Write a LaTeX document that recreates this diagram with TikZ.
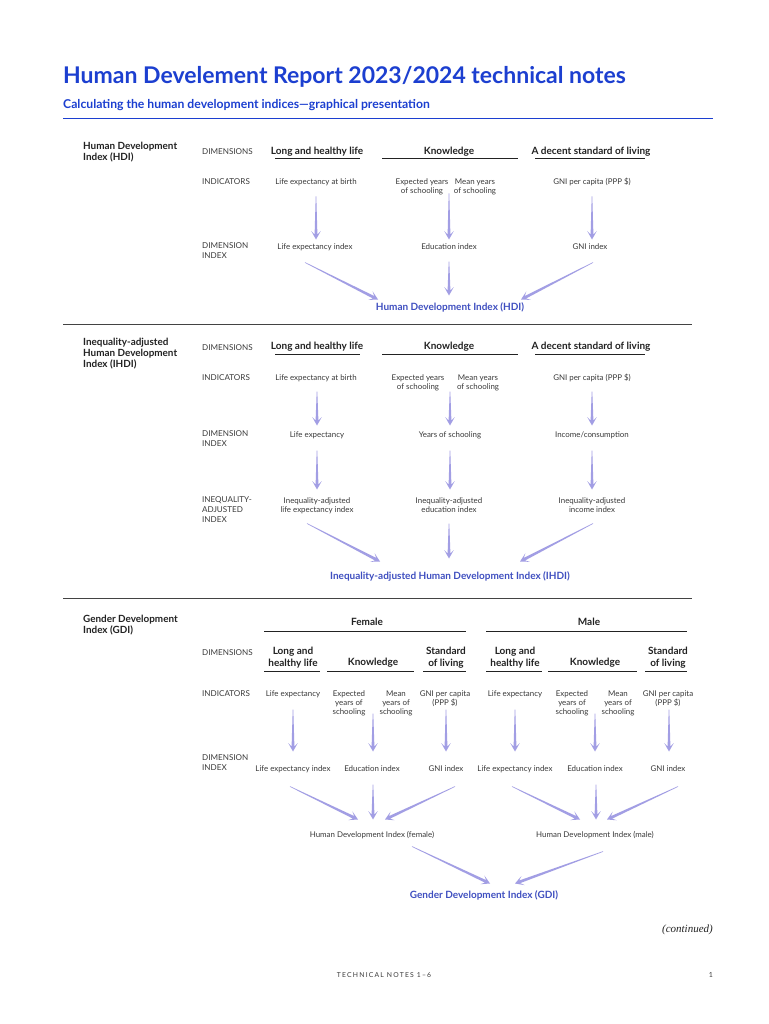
\documentclass[tikz,border=0pt]{standalone}
\usepackage{fontspec}
\setmainfont{Lato}
\newfontfamily\serifit{Liberation Serif}
\usetikzlibrary{calc}
\definecolor{titleblue}{HTML}{1C3FD0}
\definecolor{resblue}{HTML}{3F4FC0}
\definecolor{arrowc}{HTML}{A29EE4}
\definecolor{txt}{HTML}{3A3A3A}
\definecolor{dark}{HTML}{222222}
\newcommand\pairbox[3]{\makebox[#1pt]{#2}\makebox[#1pt]{#3}}
\begin{document}
\begin{tikzpicture}[x=1pt,y=-1pt,
 struts/.style={execute at begin node=\strut, execute at end node=\strut},
 small/.style={font=\fontsize{7.9}{9}\selectfont, text=txt, align=center, inner sep=0pt, struts, yshift=-1.5pt},
 cat/.style={font=\fontsize{8.1}{10}\selectfont, text=txt, align=left, anchor=west, inner sep=0pt, struts, yshift=-1.5pt},
 dimh/.style={font=\bfseries\fontsize{10}{12}\selectfont, text=dark, align=center, inner sep=0pt, struts, yshift=-1.5pt},
 sec/.style={font=\bfseries\fontsize{9.9}{11}\selectfont, text=dark, align=left, anchor=north west, inner sep=0pt, struts},
 res/.style={font=\bfseries\fontsize{10}{11}\selectfont, text=resblue, inner sep=0pt, struts, yshift=-1.5pt},
 uline/.style={draw=dark, line width=0.8pt},
 sepline/.style={draw=dark!85, line width=0.9pt},
 arr/.style={fill=arrowc, draw=none},
 taper/.style={to path={let \p1=(\tikztostart),\p2=(\tikztotarget),\n1={atan2(\y2-\y1,\x2-\x1)} in
   ($(\p1)+({\n1+90}:0.3pt)$) -- ($(\p2)+({\n1+180}:5pt)+({\n1+90}:1.4pt)$) -- ($(\p2)+({\n1+180}:8.5pt)+({\n1+90}:4.8pt)$) -- (\p2) -- ($(\p2)+({\n1+180}:8.5pt)+({\n1-90}:4.8pt)$) -- ($(\p2)+({\n1+180}:5pt)+({\n1-90}:1.4pt)$) -- ($(\p1)+({\n1-90}:0.3pt)$) -- cycle}}
]
\useasboundingbox (0,0) rectangle (768,1024);
\fill[white] (0,0) rectangle (768,1024);

% header
\node[anchor=base west, inner sep=0pt, text=titleblue, font=\bfseries\fontsize{23}{26}\selectfont] (title) at (63,84) {Human Develement Report 2023/2024 technical notes};
\node[anchor=base west, inner sep=0pt, text=titleblue, font=\bfseries\fontsize{12.2}{14}\selectfont] (subtitle) at (63,109) {Calculating the human development indices---graphical presentation};
\draw[draw=titleblue, line width=1pt] (63,119) -- (713,119);

% ===== HDI =====
\node[sec] (s1) at (83,142) {Human Development\\Index (HDI)};
\node[cat] (c1a) at (202,151) {DIMENSIONS};
\node[dimh] (d1a) at (317,151) {Long and healthy life};
\node[dimh] (d1b) at (449,151) {Knowledge};
\node[dimh] (d1c) at (591,151) {A decent standard of living};
\draw[uline] (275,158) -- (360,158);
\draw[uline] (382,158) -- (518,158);
\draw[uline] (535,158) -- (645,158);
\node[cat] (c1b) at (202,181) {INDICATORS};
\node[small] (i1a) at (316,181) {Life expectancy at birth};
\node[small] (i1b) at (448.5,185.5) {\pairbox{53}{Expected years}{Mean years}\\\pairbox{53}{of schooling}{of schooling}};
\node[small] (i1d) at (592,181) {GNI per capita (PPP \$)};
\node[cat] (c1c) at (202,251) {DIMENSION\\INDEX};
\node[small] (x1a) at (315,246) {Life expectancy index};
\node[small] (x1b) at (449,246) {Education index};
\node[small] (x1c) at (590,246) {GNI index};
\node[res] (r1) at (450,307) {Human Development Index (HDI)};
\fill[arr] ($(i1a)+(0,14)$) to[taper] ($(x1a)+(1,-8)$);
\fill[arr] ($(i1b)+(0.5,6.5)$) to[taper] ($(x1b)+(0,-8)$);
\fill[arr] ($(i1d)+(0,14)$) to[taper] ($(x1c)+(2,-8)$);
\fill[arr] ($(x1a)+(-10,15)$) to[taper] ($(r1)+(-72,-9)$);
\fill[arr] ($(x1b)+(0,14)$) to[taper] ($(r1)+(-1,-13)$);
\fill[arr] ($(x1c)+(3,15)$) to[taper] ($(r1)+(71,-9)$);
\draw[sepline] (63,324) -- (692,324);

% ===== IHDI =====
\node[sec] (s2) at (83,338) {Inequality-adjusted\\Human Development\\Index (IHDI)};
\node[cat] (c2a) at (202,347) {DIMENSIONS};
\node[dimh] (d2a) at (317,346) {Long and healthy life};
\node[dimh] (d2b) at (449,346) {Knowledge};
\node[dimh] (d2c) at (591,346) {A decent standard of living};
\draw[uline] (275,354) -- (360,354);
\draw[uline] (382,354) -- (518,354);
\draw[uline] (535,354) -- (645,354);
\node[cat] (c2b) at (202,377) {INDICATORS};
\node[small] (i2a) at (316,377) {Life expectancy at birth};
\node[small] (i2b) at (448,381.5) {\pairbox{60}{Expected years}{Mean years}\\\pairbox{60}{of schooling}{of schooling}};
\node[small] (i2d) at (592,377) {GNI per capita (PPP \$)};
\node[cat] (c2c) at (202,439) {DIMENSION\\INDEX};
\node[small] (x2a) at (317,434) {Life expectancy};
\node[small] (x2b) at (450,434) {Years of schooling};
\node[small] (x2c) at (592,434) {Income/consumption};
\node[cat] (c2d) at (202,509.5) {INEQUALITY-\\ADJUSTED\\INDEX};
\node[small] (q2a) at (317,505) {Inequality-adjusted\\life expectancy index};
\node[small] (q2b) at (449,505) {Inequality-adjusted\\education index};
\node[small] (q2c) at (592,505) {Inequality-adjusted\\income index};
\node[res] (r2) at (450,576) {Inequality-adjusted Human Development Index (IHDI)};
\fill[arr] ($(i2a)+(1,13)$) to[taper] ($(x2a)+(0,-10)$);
\fill[arr] ($(i2b)+(2,8.5)$) to[taper] ($(x2b)+(0,-10)$);
\fill[arr] ($(i2d)+(0,13)$) to[taper] ($(x2c)+(0,-10)$);
\fill[arr] ($(x2a)+(0,15)$) to[taper] ($(q2a)+(0,-17)$);
\fill[arr] ($(x2b)+(0,15)$) to[taper] ($(q2b)+(1,-17)$);
\fill[arr] ($(x2c)+(0,15)$) to[taper] ($(q2c)+(0,-17)$);
\fill[arr] ($(q2a)+(-10,17)$) to[taper] ($(r2)+(-70,-16)$);
\fill[arr] ($(q2b)+(0,17)$) to[taper] ($(r2)+(-1,-19)$);
\fill[arr] ($(q2c)+(1,17)$) to[taper] ($(r2)+(70,-16)$);
\draw[sepline] (63,598) -- (692,598);

% ===== GDI =====
\node[sec] (s3) at (83,615) {Gender Development\\Index (GDI)};
\node[dimh] (fem) at (367,622) {Female};
\node[dimh] (mal) at (589,622) {Male};
\draw[uline] (264,631) -- (466,631);
\draw[uline] (486,631) -- (687,631);
\node[cat] (c3a) at (202,652) {DIMENSIONS};
\node[dimh] (d3a) at (293,657) {Long and\\healthy life};
\node[dimh] (d3b) at (373,662) {Knowledge};
\node[dimh] (d3c) at (446,657) {Standard\\of living};
\node[dimh] (d3d) at (515,657) {Long and\\healthy life};
\node[dimh] (d3e) at (595,662) {Knowledge};
\node[dimh] (d3f) at (668,657) {Standard\\of living};
\draw[uline] (264,671) -- (320,671);
\draw[uline] (327,671) -- (414,671);
\draw[uline] (423,671) -- (466,671);
\draw[uline] (486,671) -- (542,671);
\draw[uline] (548,671) -- (637,671);
\draw[uline] (645,671) -- (687,671);
\node[cat] (c3b) at (202,693) {INDICATORS};
\node[small] (i3a) at (293,693) {Life expectancy};
\node[small] (i3b) at (372.5,702) {\pairbox{47}{Expected}{Mean}\\\pairbox{47}{years of}{years of}\\\pairbox{47}{schooling}{schooling}};
\node[small] (i3d) at (445,697.5) {GNI per capita\\(PPP \$)};
\node[small] (i3e) at (515,693) {Life expectancy};
\node[small] (i3f) at (595,702) {\pairbox{46}{Expected}{Mean}\\\pairbox{46}{years of}{years of}\\\pairbox{46}{schooling}{schooling}};
\node[small] (i3h) at (668,697.5) {GNI per capita\\(PPP \$)};
\node[cat] (c3c) at (202,762.5) {DIMENSION\\INDEX};
\node[small] (x3a) at (293,768) {Life expectancy index};
\node[small] (x3b) at (372,768) {Education index};
\node[small] (x3c) at (446,768) {GNI index};
\node[small] (x3d) at (515,768) {Life expectancy index};
\node[small] (x3e) at (595,768) {Education index};
\node[small] (x3f) at (668,768) {GNI index};
\node[small] (h3f) at (372,834) {Human Development Index (female)};
\node[small] (h3m) at (595,834) {Human Development Index (male)};
\node[res] (r3) at (484,895) {Gender Development Index (GDI)};
\fill[arr] ($(i3a)+(0,15)$) to[taper] ($(x3a)+(0,-18)$);
\fill[arr] ($(i3b)+(0.5,10)$) to[taper] ($(x3b)+(1,-18)$);
\fill[arr] ($(i3d)+(1,10.5)$) to[taper] ($(x3c)+(0,-18)$);
\fill[arr] ($(i3e)+(0,15)$) to[taper] ($(x3d)+(0,-18)$);
\fill[arr] ($(i3f)+(0,10)$) to[taper] ($(x3e)+(0,-18)$);
\fill[arr] ($(i3h)+(1,10.5)$) to[taper] ($(x3f)+(1,-18)$);
\fill[arr] ($(x3a)+(-3,17)$) to[taper] ($(h3f)+(-14,-16)$);
\fill[arr] ($(x3b)+(1,15)$) to[taper] ($(h3f)+(1,-16)$);
\fill[arr] ($(x3c)+(9,17)$) to[taper] ($(h3f)+(13,-16)$);
\fill[arr] ($(x3d)+(-3,17)$) to[taper] ($(h3m)+(-15,-16)$);
\fill[arr] ($(x3e)+(1,15)$) to[taper] ($(h3m)+(1,-16)$);
\fill[arr] ($(x3f)+(10,17)$) to[taper] ($(h3m)+(12,-16)$);
\fill[arr] ($(h3f)+(40,11)$) to[taper] ($(r3)+(6,-13)$);
\fill[arr] ($(h3m)+(8,16)$) to[taper] ($(r3)+(31,-13)$);

% footer
\node[anchor=east, inner sep=0pt, text=dark, font=\serifit\itshape\fontsize{11}{13}\selectfont] (cont) at (713,930) {(continued)};
\node[inner sep=0pt, text=txt, font=\fontsize{6.8}{8}\selectfont\addfontfeature{LetterSpace=18}] (foot) at (384,975) {TECHNICAL NOTES 1--6};
\node[anchor=east, inner sep=0pt, text=txt, font=\fontsize{7}{8}\selectfont] (pg) at (713,975) {1};
\end{tikzpicture}
\end{document}
